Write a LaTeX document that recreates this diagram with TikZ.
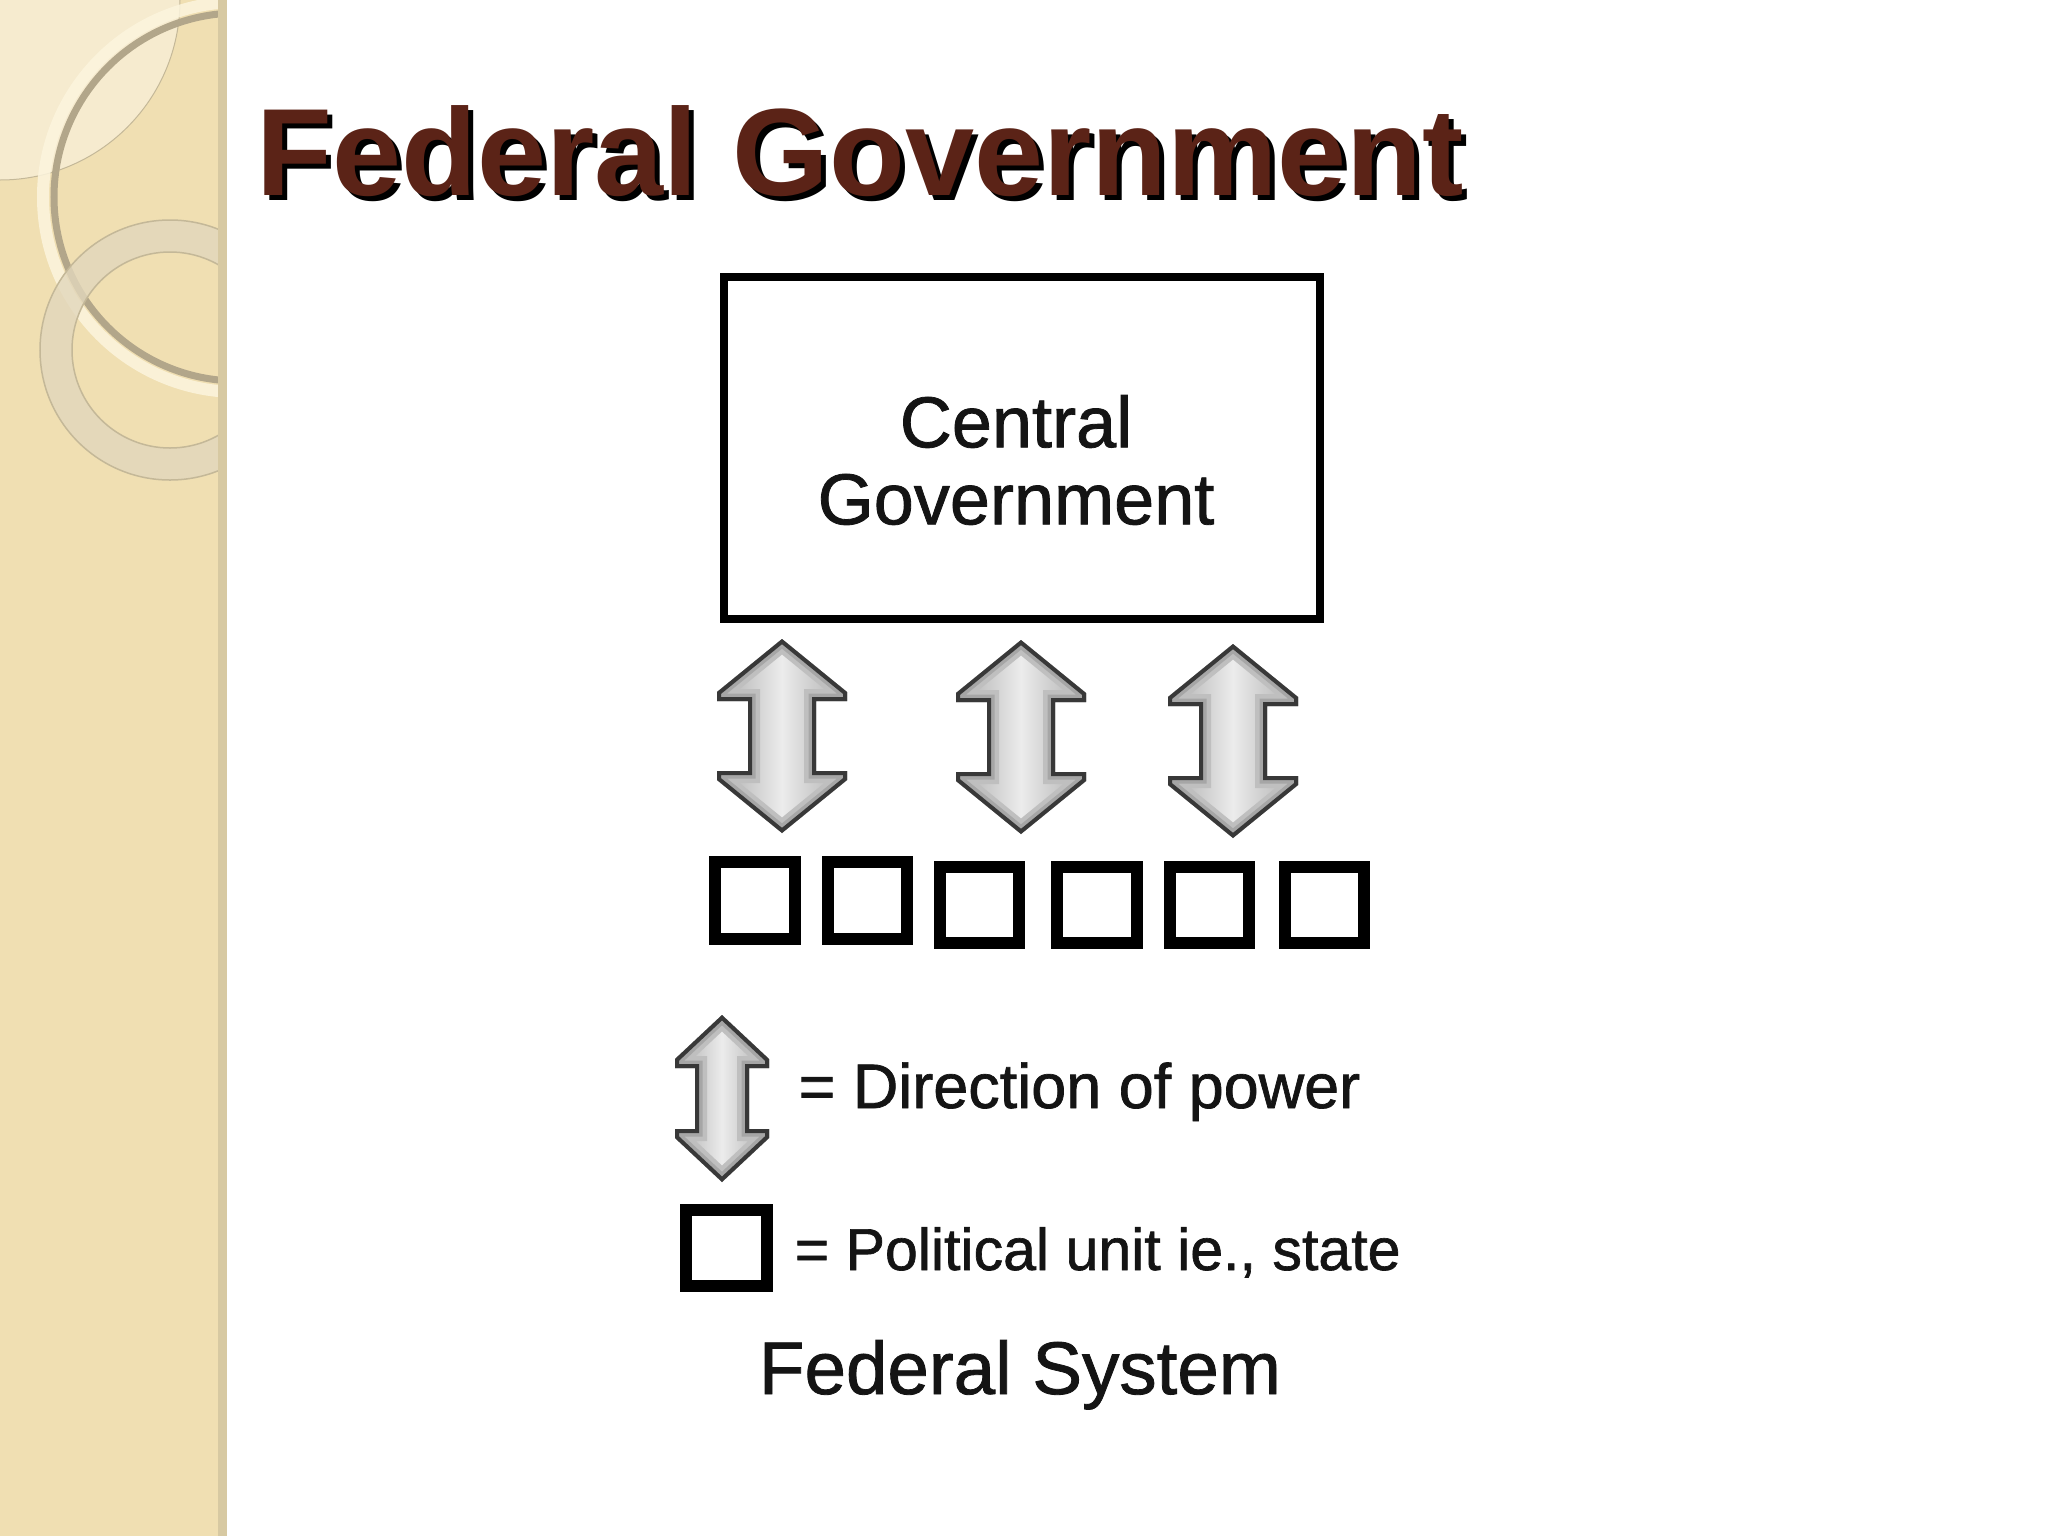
\documentclass[tikz,border=0pt]{standalone}
\usepackage{fontspec}
\setmainfont{Liberation Sans}
\newfontfamily\heavysans[FakeBold=1.1]{Liberation Sans}
\usetikzlibrary{positioning}

\definecolor{stripbg}{HTML}{F0DFB2}
\definecolor{stripedge}{HTML}{D7C9A2}
\definecolor{striplight}{HTML}{F6EBCF}
\definecolor{ringcol}{HTML}{E2D7BC}
\definecolor{ringline}{HTML}{C4B898}
\definecolor{arctaupe}{HTML}{B2A68A}
\definecolor{arccream}{HTML}{FCF5DE}
\definecolor{titlebrown}{HTML}{5B2317}

\tikzset{
  govbox/.style={draw=black, line width=0.08cm, minimum width=5.96cm, minimum height=3.42cm, inner sep=0pt},
  unitbox/.style={draw=black, line width=0.12cm, minimum width=0.79cm, minimum height=0.76cm, inner sep=0pt},
  bodytext/.style={inner sep=0pt, text=black!92},
}

\begin{document}
\begin{tikzpicture}[x=0.01cm, y=-0.01cm]
    \useasboundingbox (0,0) rectangle (2048,1536);
    \fill[white] (0,0) rectangle (2048,1536);

    % Side strip
    \fill[stripbg] (0,0) rectangle (227,1536);
    \begin{scope}
        \clip (0,0) rectangle (218,1536);
        \fill[striplight] (0,0) circle (180);
        \draw[ringline, line width=0.01cm] (0,0) circle (180);
        \draw[arccream, line width=0.12cm, opacity=.85] (238,197) circle (195);
        \draw[arctaupe, line width=0.07cm] (238,197) circle (184);
        \fill[ringcol, opacity=.8, even odd rule] (170,350) circle (130) (170,350) circle (98);
        \draw[ringline, line width=0.015cm] (170,350) circle (130) (170,350) circle (98);
    \end{scope}
    \fill[stripedge] (218,0) rectangle (227,1536);

    % Title
    \node[anchor=base west, inner sep=0pt, text=black, font=\fontsize{35.3}{40}\selectfont\bfseries] (titleshadow) at (261,200) {Federal Government};
    \node[anchor=base west, inner sep=0pt, text=titlebrown, font=\fontsize{35.3}{40}\selectfont\bfseries] (title) at (256,195) {Federal Government};

    % Central government
    \node[govbox] (gov) at (1022,448) {};
    \node[bodytext, align=center, font=\heavysans\fontsize{20.5}{21.9}\selectfont] (govtext) at (1016,460) {Central\\Government};

    % Arrows of power
    \foreach \cx/\ty/\len/\hw/\sw/\hl in {782/639/194/65/34/62, 1021/640/194/65/34/62, 1233/644/194/65/34/62, 722/1015/167/47/27/53}
    {
        \def\arrowpath{(\cx,\ty) -- ({\cx+\hw},{\ty+\hl-9}) -- ({\cx+\hw},{\ty+\hl}) -- ({\cx+\sw},{\ty+\hl})
            -- ({\cx+\sw},{\ty+\len-\hl}) -- ({\cx+\hw},{\ty+\len-\hl}) -- ({\cx+\hw},{\ty+\len-\hl+9})
            -- (\cx,{\ty+\len}) -- ({\cx-\hw},{\ty+\len-\hl+9}) -- ({\cx-\hw},{\ty+\len-\hl})
            -- ({\cx-\sw},{\ty+\len-\hl}) -- ({\cx-\sw},{\ty+\hl}) -- ({\cx-\hw},{\ty+\hl})
            -- ({\cx-\hw},{\ty+\hl-9}) -- cycle}
        \begin{scope}
            \clip \arrowpath;
            \shade[left color=gray!65, right color=gray!65, middle color=gray!15] \arrowpath;
            \draw[gray!50, line width=0.24cm] \arrowpath;
            \draw[gray!70, line width=0.15cm] \arrowpath;
            \draw[black!78, line width=0.08cm] \arrowpath;
        \end{scope}
    }

    % Political units
    \foreach \i/\x/\y in {1/755/900.5, 2/867.5/900.5, 3/979.5/905, 4/1097/905, 5/1209.5/905, 6/1324.5/905}
        \node[unitbox] (s\i) at (\x,\y) {};

    % Legend
    \node[bodytext, anchor=base west, font=\heavysans\fontsize{17.9}{20}\selectfont] (keypower) at (798,1108) {= Direction of power};
    \node[unitbox, minimum width=0.81cm] (keybox) at (726.5,1248) {};
    \node[bodytext, anchor=base west, font=\heavysans\fontsize{16.8}{20}\selectfont] (keyunit) at (794,1270) {= Political unit ie., state};

    % Caption
    \node[bodytext, anchor=base, font=\heavysans\fontsize{21.2}{24}\selectfont] (caption) at (1020,1394) {Federal System};
\end{tikzpicture}
\end{document}
